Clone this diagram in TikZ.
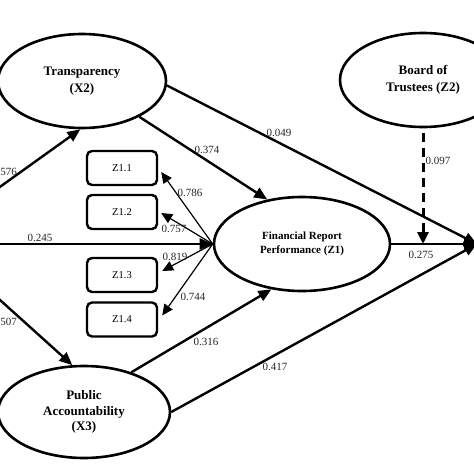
\documentclass[tikz,border=0pt]{standalone}
\usepackage{fontspec}
\setmainfont{Liberation Serif}
\usetikzlibrary{shapes.geometric,arrows.meta}
\begin{document}
\begin{tikzpicture}[x=1pt,y=-1pt,
  lat/.style={ellipse,draw,line width=2.6pt,inner sep=0pt,align=center,font=\fontsize{13}{17}\selectfont\bfseries},
  ind/.style={draw,rounded corners=5pt,line width=2.4pt,minimum width=70pt,minimum height=34pt,inner sep=0pt,font=\fontsize{10.5}{12}\selectfont},
  reg/.style={line width=2.4pt,-{Triangle[length=13pt,width=11pt]}},
  load/.style={line width=1.2pt,-{Triangle[length=11pt,width=10pt]}},
  mod/.style={line width=3pt,dash pattern=on 9pt off 6pt,shorten <=5pt,-{Triangle[length=12pt,width=11pt]}},
  lbl/.style={inner sep=0pt,font=\fontsize{11}{12}\selectfont,text=black!85}
]
\path[fill=white,use as bounding box] (0,0) rectangle (474,474);

\node[lat,minimum width=168pt,minimum height=94pt] (T) at (82,81) {Transparency\\(X2)};
\node[lat,minimum width=166pt,minimum height=94pt] (B) at (423,80) {Board of\\Trustees (Z2)};
\node[lat,minimum width=176pt,minimum height=94pt,font=\fontsize{11}{13.5}\selectfont\bfseries] (F) at (302,244) {Financial Report\\Performance (Z1)};
\node[lat,minimum width=172pt,minimum height=92pt,font=\fontsize{13}{15.5}\selectfont\bfseries] (P) at (84,412) {Public\\Accountability\\(X3)};

\node[ind] (Z11) at (122,168) {Z1.1};
\node[ind] (Z12) at (122,212) {Z1.2};
\node[ind] (Z13) at (122,275) {Z1.3};
\node[ind] (Z14) at (122,319.5) {Z1.4};

\coordinate (X1a) at (-10,194);
\coordinate (X1b) at (-10,244);
\coordinate (X1c) at (-10,291);
\coordinate (Y) at (477,244);
\coordinate (M) at (423,244);

\draw[reg] (X1a) -- (T.-92);
\draw[reg] (X1b) -- (F.west);
\draw[reg] (X1c) -- (P.104);
\draw[reg] (T.-32) -- (F.128);
\draw[reg] (T.-3) -- (Y);
\draw[reg] (P.40) -- (F.-124);
\draw[reg] (P.east) -- (Y);
\draw[reg] (F.east) -- (Y);
\draw[mod] (B.south) -- (M);

\draw[load] (F.west) -- ([shift={(3,4)}]Z11.east);
\draw[load] (F.west) -- ([shift={(3,1)}]Z12.east);
\draw[load] (F.west) -- ([shift={(4,-4)}]Z13.east);
\draw[load] (F.west) -- ([shift={(4,-4)}]Z14.east);

\node[lbl,anchor=east] (l1) at (17,172) {0.576};
\node[lbl] (l2) at (40,238) {0.245};
\node[lbl,anchor=east] (l3) at (17,322) {0.507};
\node[lbl] (l4) at (207,150) {0.374};
\node[lbl] (l5) at (190,193) {0.786};
\node[lbl] (l6) at (174,229) {0.757};
\node[lbl] (l7) at (175,257) {0.819};
\node[lbl] (l8) at (193,297) {0.744};
\node[lbl] (l9) at (206,342) {0.316};
\node[lbl] (l10) at (279,133) {0.049};
\node[lbl] (l11) at (438,161) {0.097};
\node[lbl] (l12) at (421,255) {0.275};
\node[lbl] (l13) at (275,367) {0.417};
\end{tikzpicture}
\end{document}
